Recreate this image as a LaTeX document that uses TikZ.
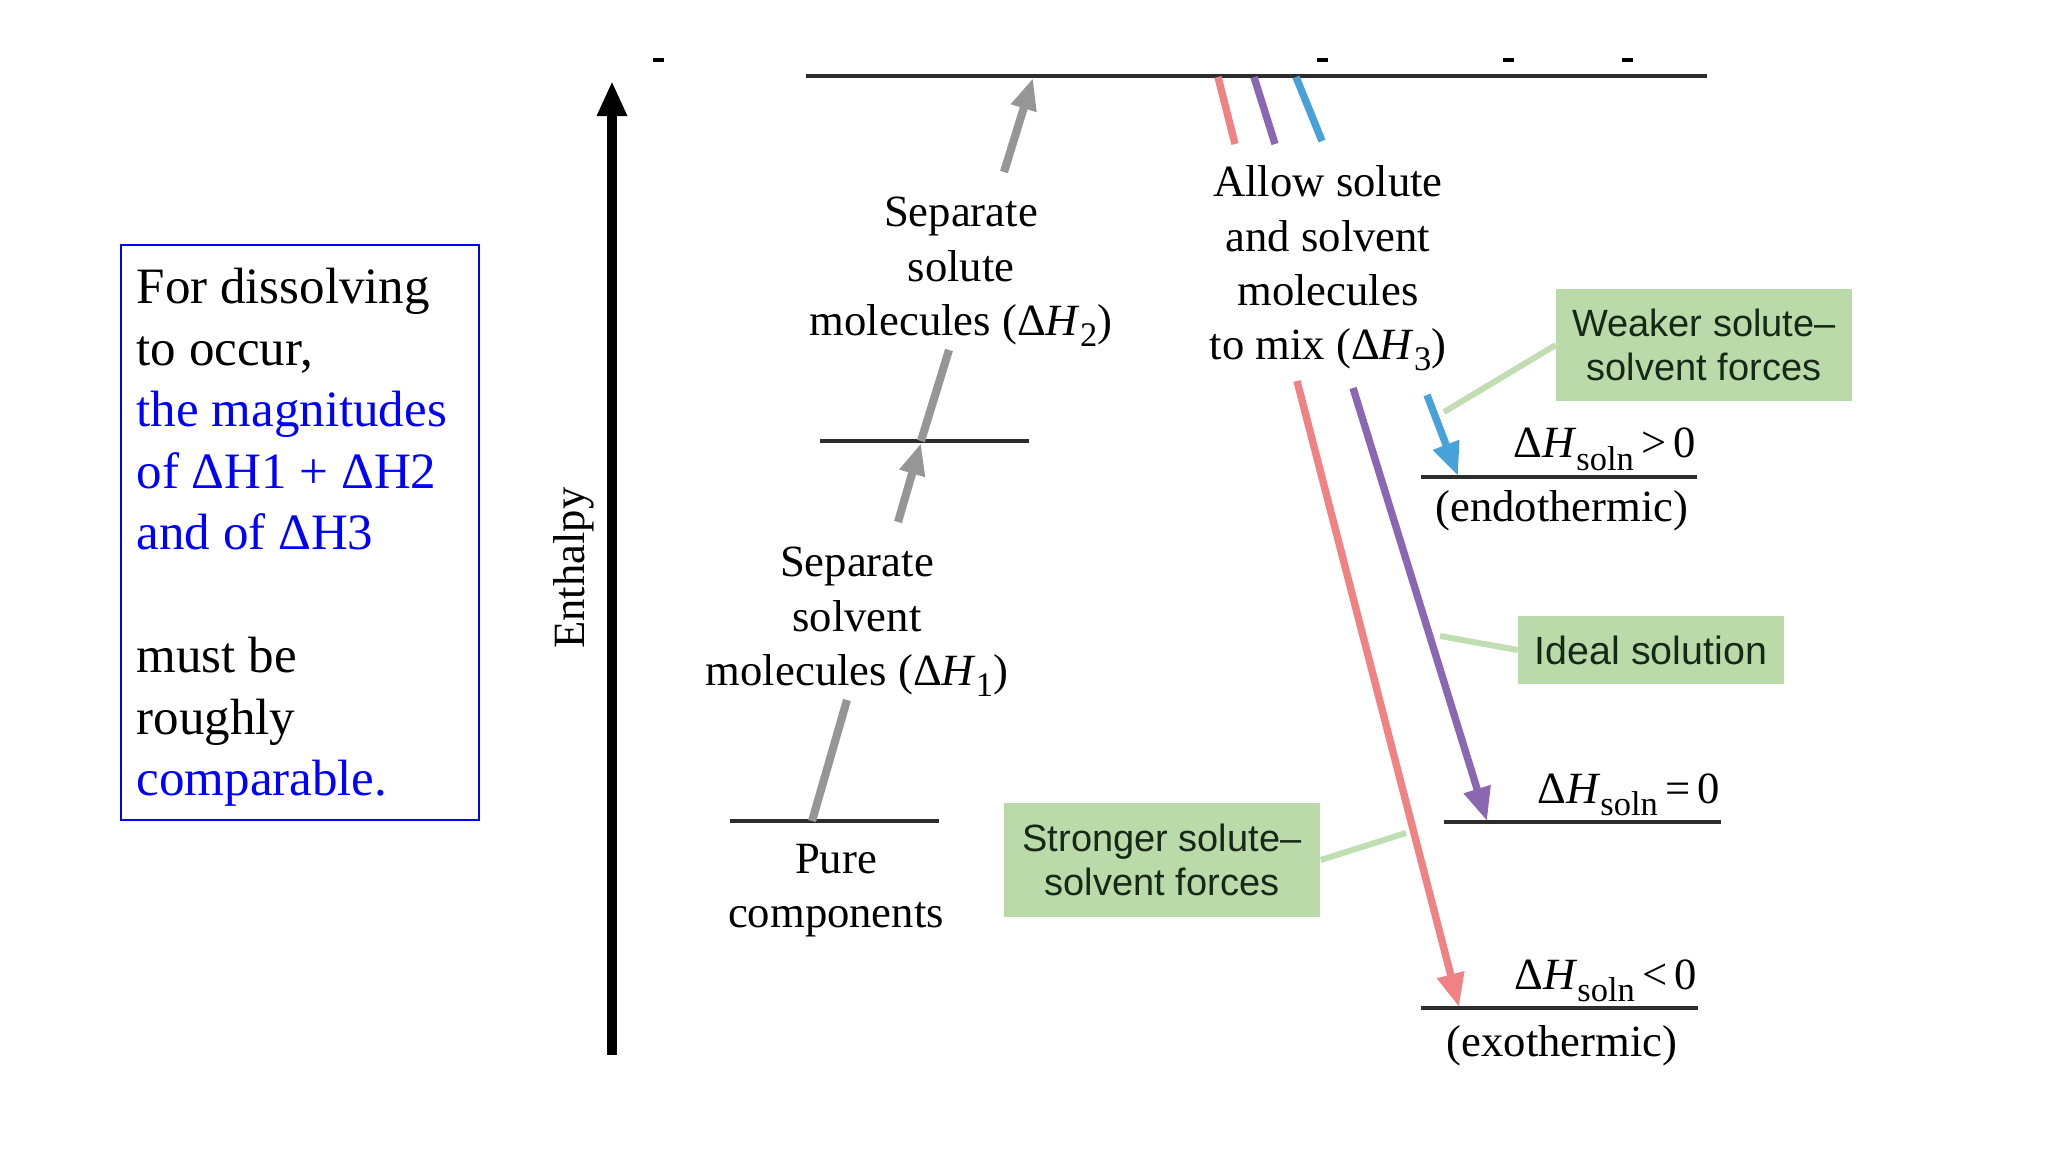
\documentclass[tikz,border=0pt]{standalone}
\usepackage{fontspec}
\setmainfont{Liberation Serif}
\newfontfamily\boxfont{Liberation Sans}
\usetikzlibrary{arrows.meta}
\definecolor{pinkarr}{RGB}{240,130,132}
\definecolor{purparr}{RGB}{139,102,178}
\definecolor{bluearr}{RGB}{72,162,218}
\definecolor{grayarr}{RGB}{150,150,150}
\definecolor{boxgreen}{RGB}{186,218,170}
\definecolor{linkgreen}{RGB}{192,222,178}
\definecolor{boxtext}{RGB}{22,40,22}
\definecolor{levelc}{RGB}{45,45,45}
\newcommand\mysub[1]{\raisebox{-3.6pt}{\fontsize{9.8}{11}\selectfont #1}}
\newcommand\numsub[1]{\raisebox{-3.2pt}{\fontsize{9.8}{11}\selectfont #1}}
\begin{document}
\begin{tikzpicture}[x=0.01cm,y=-0.01cm,
  levelline/.style={draw=levelc,line width=1.05pt},
  toplevel/.style={draw=levelc,line width=1.2pt},
  grayseg/.style={draw=grayarr,line width=2.3pt},
  grayarrow/.style={grayseg,-{Triangle[length=9pt,width=7pt]}},
  colseg/.style={line width=2.1pt},
  colarrow/.style={colseg,-{Triangle[length=9.5pt,width=7.5pt]}},
  axisarrow/.style={draw=black,line width=2.6pt,-{Triangle[length=10pt,width=8pt]}},
  link/.style={draw=linkgreen,line width=1.7pt},
  lbl/.style={font=\fontsize{12.7}{15.4}\selectfont,inner sep=0pt,anchor=base},
  greenbox/.style={fill=boxgreen,text=boxtext,font=\boxfont\fontsize{10.8}{12.5}\selectfont,align=center,inner sep=0pt},
  tick/.style={draw=black,line width=1.1pt}
]
\fill[white] (0,0) rectangle (2048,1152);
\useasboundingbox (0,0) rectangle (2048,1152);

% left note box
\node[draw=blue,line width=0.6pt,minimum width=3.58cm,minimum height=5.75cm,anchor=north west,inner sep=0pt] (notebox) at (120,244) {};
\node[anchor=base west,inner sep=0pt,font=\fontsize{14.5}{17.47}\selectfont] (notetext) at (136,304)
 {\begin{tabular}[t]{@{}l@{}}For dissolving\\to occur,\\\color{blue}the magnitudes\\\color{blue}of ΔH1 + ΔH2\\\color{blue}and of ΔH3\\ \\must be\\roughly\\\color{blue}comparable.\end{tabular}};

% enthalpy axis
\coordinate (axB) at (612,1055);
\coordinate (axT) at (612,81);
\draw[axisarrow] (axB) -- (axT);
\node[lbl,rotate=90] (enth) at (584,568) {Enthalpy};

% small marks at top
\coordinate (t1a) at (653,60); \coordinate (t1b) at (664,60);
\coordinate (t2a) at (1317,60); \coordinate (t2b) at (1328,60);
\coordinate (t3a) at (1503,60); \coordinate (t3b) at (1514,60);
\coordinate (t4a) at (1622,60); \coordinate (t4b) at (1633,60);
\draw[tick] (t1a) -- (t1b);
\draw[tick] (t2a) -- (t2b);
\draw[tick] (t3a) -- (t3b);
\draw[tick] (t4a) -- (t4b);

% levels
\coordinate (topL) at (806,76); \coordinate (topR) at (1707,76);
\coordinate (midL) at (820,441); \coordinate (midR) at (1029,441);
\coordinate (botL) at (730,821); \coordinate (botR) at (939,821);
\coordinate (endoL) at (1421,477); \coordinate (endoR) at (1697,477);
\coordinate (idealL) at (1444,822); \coordinate (idealR) at (1721,822);
\coordinate (exoL) at (1421,1008); \coordinate (exoR) at (1698,1008);
\draw[toplevel] (topL) -- (topR);
\draw[levelline] (midL) -- (midR);
\draw[levelline] (botL) -- (botR);
\draw[levelline] (endoL) -- (endoR);
\draw[levelline] (idealL) -- (idealR);
\draw[levelline] (exoL) -- (exoR);

% gray arrows
\coordinate (g1a) at (812,821); \coordinate (g1b) at (847,700);
\coordinate (g1c) at (898,522); \coordinate (g1d) at (921,443);
\coordinate (g2a) at (921,441); \coordinate (g2b) at (949,350);
\coordinate (g2c) at (1004,172); \coordinate (g2d) at (1033,78);
\draw[grayseg] (g1a) -- (g1b);
\draw[grayarrow] (g1c) -- (g1d);
\draw[grayseg] (g2a) -- (g2b);
\draw[grayarrow] (g2c) -- (g2d);

% coloured arrows
\coordinate (p1) at (1218,77); \coordinate (p2) at (1235,144);
\coordinate (p3) at (1297,381); \coordinate (p4) at (1459,1007);
\coordinate (u1) at (1254,77); \coordinate (u2) at (1275,144);
\coordinate (u3) at (1353,388); \coordinate (u4) at (1487,821);
\coordinate (b1) at (1296,77); \coordinate (b2) at (1322,141);
\coordinate (b3) at (1427,395); \coordinate (b4) at (1458,476);
\draw[colseg,draw=pinkarr] (p1) -- (p2);
\draw[colarrow,draw=pinkarr,fill=pinkarr] (p3) -- (p4);
\draw[colseg,draw=purparr] (u1) -- (u2);
\draw[colarrow,draw=purparr,fill=purparr] (u3) -- (u4);
\draw[colseg,draw=bluearr] (b1) -- (b2);
\draw[colarrow,draw=bluearr,fill=bluearr] (b3) -- (b4);

% step labels
\node[lbl] (sepsolute) at (961,227)
 {\begin{tabular}[t]{@{}c@{}}Separate\\solute\\molecules (Δ\textit{H}\numsub{2})\end{tabular}};
\node[lbl] (sepsolvent) at (857,577)
 {\begin{tabular}[t]{@{}c@{}}Separate\\solvent\\molecules (Δ\textit{H}\numsub{1})\end{tabular}};
\node[lbl] (allow) at (1328,197)
 {\begin{tabular}[t]{@{}c@{}}Allow solute\\and solvent\\molecules\\to mix (Δ\textit{H}\numsub{3})\end{tabular}};
\node[lbl] (pure) at (836,873)
 {\begin{tabular}[t]{@{}c@{}}Pure\\components\end{tabular}};

% result labels
\node[lbl,anchor=base east] (endolbl) at (1697,458) {Δ\textit{H}\mysub{soln}\,>\,0};
\node[lbl] (endotxt) at (1562,522) {(endothermic)};
\node[lbl,anchor=base east] (ideallbl) at (1721,803) {Δ\textit{H}\mysub{soln}\,=\,0};
\node[lbl,anchor=base east] (exolbl) at (1698,989) {Δ\textit{H}\mysub{soln}\,<\,0};
\node[lbl] (exotxt) at (1562,1056) {(exothermic)};

% green boxes
\node[greenbox,minimum width=2.95cm,minimum height=1.12cm] (weak) at (1704,345) {Weaker solute–\\solvent forces};
\node[greenbox,font=\boxfont\fontsize{11.2}{12.5}\selectfont,minimum width=2.65cm,minimum height=0.67cm] (ideal) at (1651,650) {Ideal solution};
\node[greenbox,minimum width=3.16cm,minimum height=1.13cm] (strong) at (1162,860) {Stronger solute–\\solvent forces};

\coordinate (weakend) at (1444,412);
\coordinate (idealend) at (1440,636);
\coordinate (strongend) at (1406,833);
\draw[link] (weak.west) -- (weakend);
\draw[link] (ideal.west) -- (idealend);
\draw[link] (strong.east) -- (strongend);
\end{tikzpicture}
\end{document}
